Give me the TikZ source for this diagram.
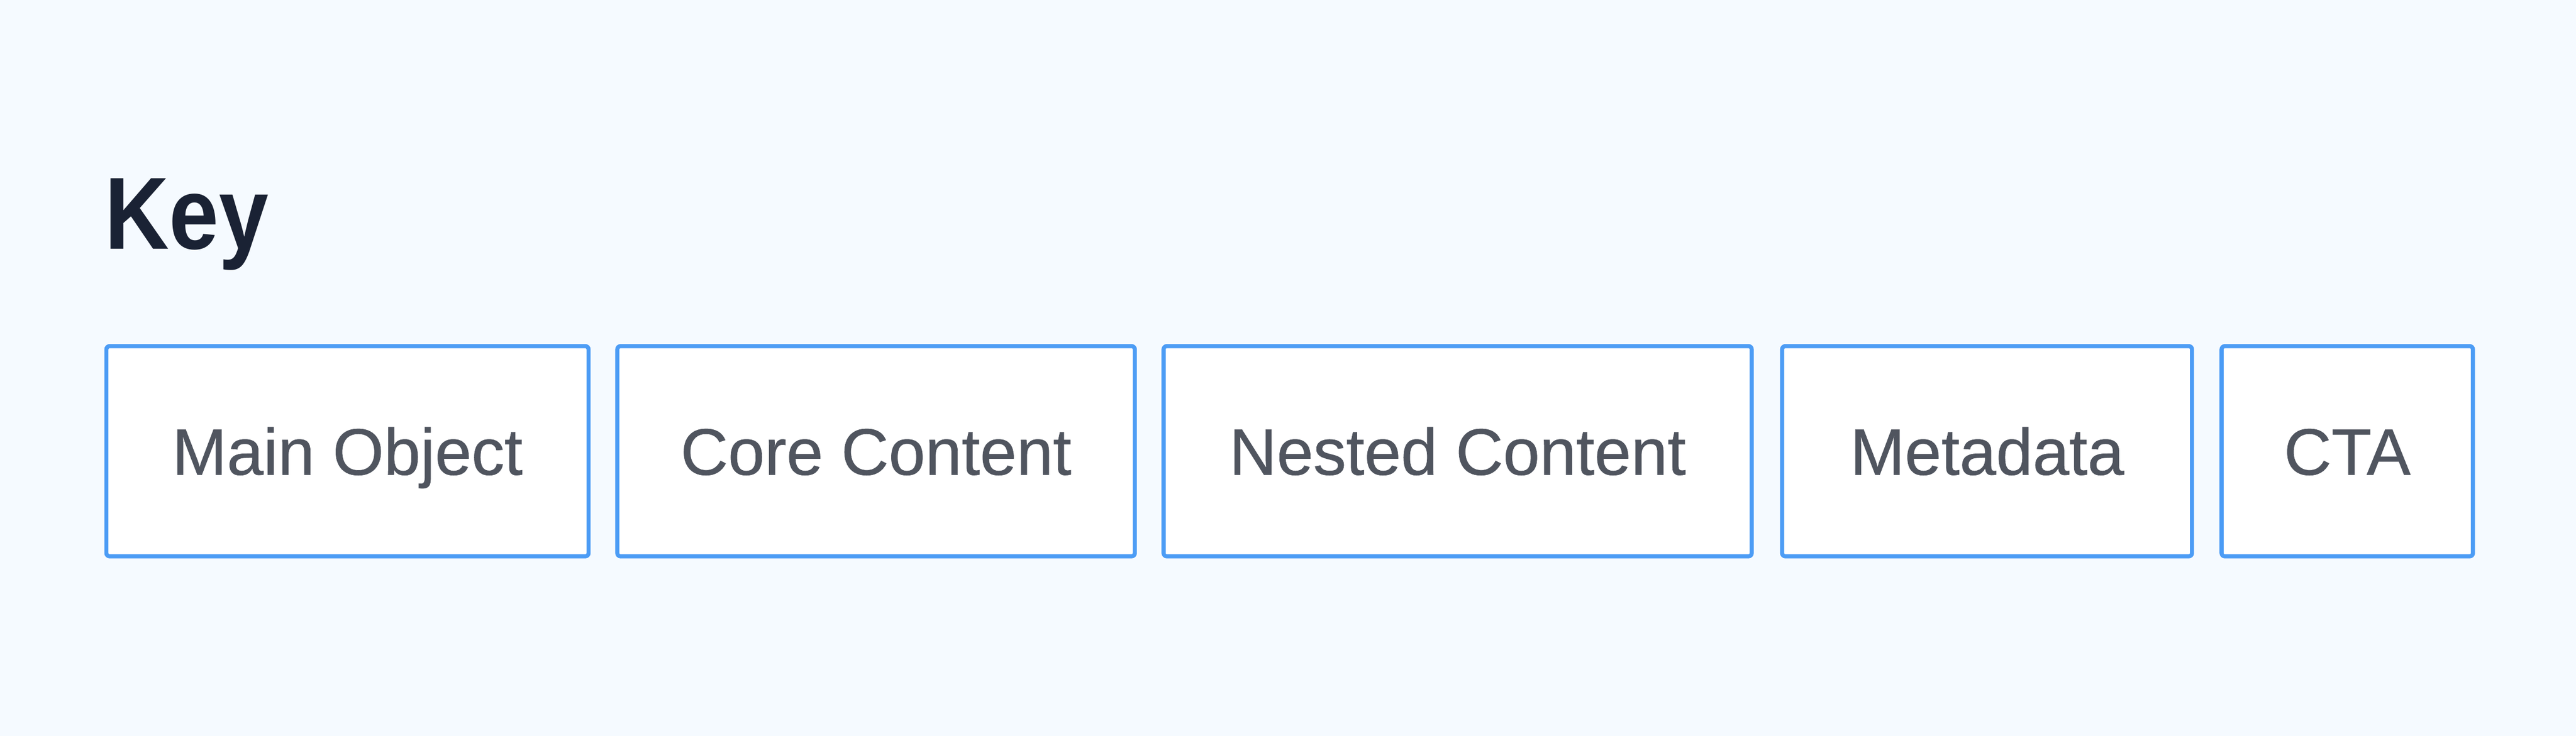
\documentclass[tikz,border=0pt]{standalone}
\usepackage{fontspec}
\setmainfont{Liberation Sans}
\newfontfamily\labelfont[FakeBold=0.6]{Liberation Sans}
\definecolor{bgcol}{HTML}{F5FAFF}
\definecolor{boxline}{HTML}{4C9CF5}
\definecolor{labelgray}{HTML}{50555F}
\definecolor{titlecol}{HTML}{1A2234}
\tikzset{
  keybox/.style={draw=boxline, line width=1.25pt, fill=white, rounded corners=1pt,
    anchor=north west, inner sep=0pt, minimum height=64pt,
    text=labelgray, font=\labelfont\fontsize{20}{24}\selectfont,
    text height=14.3pt, text depth=0pt, align=center},
  keytitle/.style={anchor=base west, inner sep=0pt, text=titlecol,
    font=\fontsize{31.2}{36}\selectfont\bfseries}
}
\begin{document}
\begin{tikzpicture}[x=0.5pt,y=-0.5pt]
\useasboundingbox (0,0) rectangle (1568,448);
\fill[bgcol] (0,0) rectangle (1568,448);
\node[keytitle] (title) at (63.4,151.5) {\scalebox{0.87}[1]{Key}};
\node[keybox, minimum width=146.75pt] (main) at (63.5,209.5) {Main Object};
\node[keybox, minimum width=157.5pt] (core) at (374.5,209.5) {Core Content};
\node[keybox, minimum width=179pt] (nested) at (707,209.5) {Nested Content};
\node[keybox, minimum width=124.75pt] (meta) at (1083.5,209.5) {Metadata};
\node[keybox, minimum width=76.5pt] (cta) at (1351,209.5) {CTA};
\end{tikzpicture}
\end{document}
